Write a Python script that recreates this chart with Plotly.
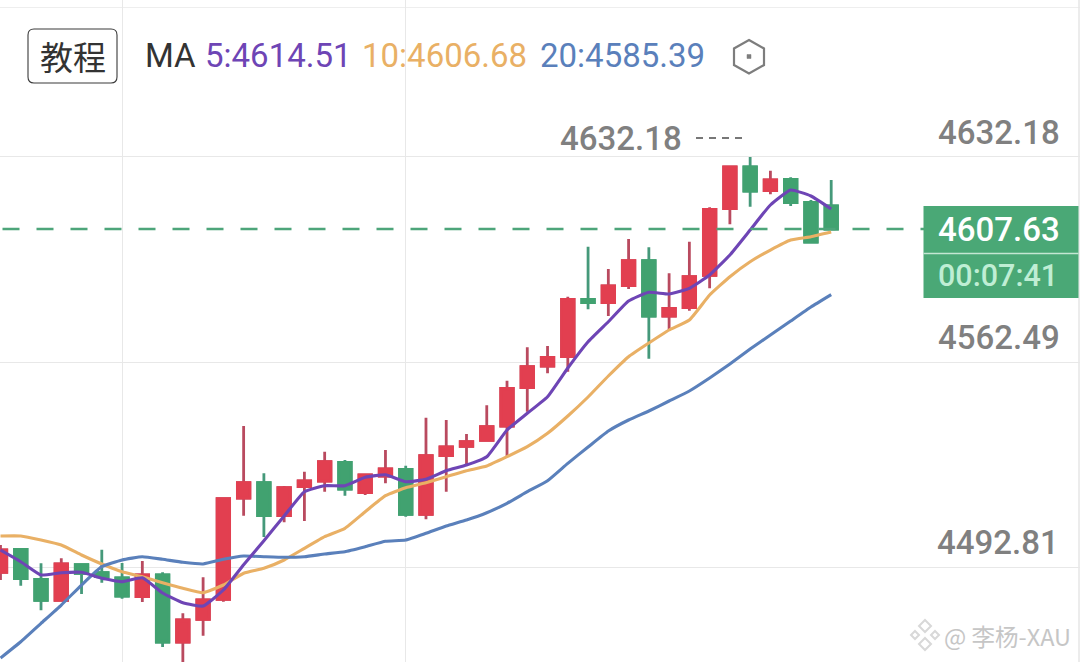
import plotly.graph_objects as go

W = 1080
H = 662

idx = list(range(42))

opens = [4491.01, 4498.83, 4488.64, 4481.50, 4493.60, 4490.88, 4489.08, 4482.72, 4490.10, 4467.32,
         4475.04, 4481.84, 4516.27, 4521.47, 4510.25, 4520.11, 4522.05, 4528.40, 4518.07, 4523.75,
         4526.03, 4510.73, 4530.65, 4533.84, 4535.88, 4540.74, 4553.76, 4561.14, 4564.30, 4583.81,
         4582.65, 4588.43, 4596.93, 4578.13, 4580.95, 4591.97, 4614.60, 4628.78, 4620.72, 4624.60,
         4616.78, 4615.52]
closes = [4498.59, 4488.84, 4481.50, 4493.84, 4490.68, 4489.52, 4482.96, 4490.10, 4467.32, 4474.80,
          4481.60, 4516.03, 4521.47, 4510.25, 4519.77, 4522.05, 4528.61, 4519.33, 4524.09, 4526.13,
          4510.73, 4530.65, 4533.60, 4535.41, 4540.50, 4553.56, 4560.90, 4564.09, 4583.81, 4582.65,
          4588.33, 4596.93, 4578.13, 4580.75, 4591.49, 4614.40, 4628.78, 4620.62, 4624.36, 4616.64,
          4603.28, 4607.63]
highs = [4500.29, 4499.17, 4494.07, 4495.77, 4493.60, 4498.70, 4494.18, 4494.86, 4491.01, 4477.08,
         4489.32, 4516.27, 4540.74, 4524.67, 4520.35, 4525.21, 4532.01, 4529.19, 4524.33, 4532.58,
         4527.25, 4543.56, 4542.78, 4538.02, 4547.78, 4556.14, 4567.49, 4567.93, 4584.69, 4601.69,
         4594.11, 4604.30, 4601.48, 4592.65, 4603.39, 4615.08, 4629.12, 4632.18, 4627.52, 4625.28,
         4617.56, 4624.36]
lows = [4488.40, 4486.46, 4478.10, 4481.50, 4483.64, 4487.48, 4482.04, 4480.92, 4465.62, 4460.53,
        4469.47, 4481.02, 4510.25, 4503.01, 4508.01, 4508.45, 4518.41, 4517.05, 4517.29, 4521.27,
        4509.91, 4509.03, 4518.41, 4527.49, 4535.54, 4530.10, 4545.60, 4558.66, 4559.20, 4580.41,
        4578.13, 4587.31, 4563.62, 4573.37, 4579.93, 4587.55, 4609.30, 4615.28, 4619.50, 4615.52,
        4603.05, 4607.63]

ma5 = [4498.59, 4494.62, 4490.10, 4490.88, 4491.01, 4488.98, 4487.82, 4489.18, 4483.98, 4480.68,
       4479.56, 4485.00, 4493.60, 4501.76, 4510.15, 4518.41, 4520.45, 4520.45, 4523.31, 4524.19,
       4521.81, 4522.63, 4525.55, 4527.49, 4530.31, 4539.38, 4545.06, 4550.70, 4560.46, 4569.40,
       4576.19, 4583.23, 4586.19, 4585.61, 4587.55, 4592.07, 4598.87, 4607.36, 4615.86, 4620.96,
       4618.92, 4614.51]
ma10 = [4503.35, 4503.35, 4501.99, 4500.29, 4496.90, 4493.84, 4491.22, 4489.52, 4487.48, 4485.58,
        4484.08, 4486.70, 4490.68, 4492.37, 4495.20, 4499.17, 4503.12, 4505.97, 4511.61, 4517.05,
        4519.77, 4521.47, 4523.51, 4525.55, 4527.15, 4530.31, 4533.71, 4538.26, 4544.14, 4550.60,
        4557.74, 4564.30, 4568.95, 4573.37, 4576.77, 4585.27, 4591.49, 4596.59, 4600.56, 4603.96,
        4605.09, 4606.68]
ma20 = [4461.89, 4467.43, 4473.68, 4479.90, 4486.70, 4492.92, 4495.20, 4496.32, 4495.43, 4494.41,
        4493.84, 4495.43, 4496.56, 4496.32, 4496.11, 4496.32, 4497.24, 4498.02, 4499.72, 4501.55,
        4501.99, 4504.27, 4506.75, 4508.79, 4511.27, 4514.47, 4518.41, 4522.15, 4528.06, 4533.60,
        4539.04, 4542.78, 4545.84, 4549.24, 4552.64, 4557.06, 4561.82, 4566.91, 4571.67, 4576.43,
        4581.19, 4585.39]

grid_prices = [4632.18, 4562.49, 4492.81]
grid_candles = [0, 6, 20]

RED = "#e23f50"
RED_WICK = "#b94a5f"
GREEN = "#41a270"
GREEN_WICK = "#45997a"
PURPLE = "#6e45b5"
ORANGE = "#e9b065"
BLUE = "#5a80bb"
GREY = "#808080"
NUM_FONT = "Roboto"


def px(x):
    return x / W


def py(y):
    return 1 - y / H


fig = go.Figure()

# wicks first, then a second pass so the bodies keep their brighter colour
fig.add_trace(go.Candlestick(x=idx, open=opens, high=highs, low=lows, close=closes,
                             increasing=dict(line=dict(color=RED_WICK, width=2.8), fillcolor=RED),
                             decreasing=dict(line=dict(color=GREEN_WICK, width=2.8), fillcolor=GREEN),
                             hoverinfo="skip"))
fig.add_trace(go.Candlestick(x=idx, open=opens, close=closes,
                             high=[max(a, b) for a, b in zip(opens, closes)],
                             low=[min(a, b) for a, b in zip(opens, closes)],
                             increasing=dict(line=dict(color=RED, width=2.8), fillcolor=RED),
                             decreasing=dict(line=dict(color=GREEN, width=2.8), fillcolor=GREEN),
                             hoverinfo="skip"))

for vals, col in [(ma10, ORANGE), (ma20, BLUE), (ma5, PURPLE)]:
    fig.add_trace(go.Scatter(x=idx, y=vals, mode="lines",
                             line=dict(color=col, width=3.1, shape="spline", smoothing=0.4),
                             hoverinfo="skip"))


def label(text, x, y, size, color, anchor="right", font=NUM_FONT, weight=400):
    fig.add_annotation(text=text, x=px(x), y=py(y), xref="paper", yref="paper",
                       xanchor=anchor, yanchor="middle", showarrow=False,
                       font=dict(family=font, size=size, color=color, weight=weight))


def line(x0, y0, x1, y1, color, width, dash="solid", layer="above"):
    fig.add_shape(type="line", xref="paper", yref="paper", x0=px(x0), y0=py(y0), x1=px(x1), y1=py(y1),
                  line=dict(color=color, width=width, dash=dash), layer=layer)


def path(points, color, width, fill="rgba(0,0,0,0)", closed=True):
    d = "M " + " L ".join(f"{px(a):.5f},{py(b):.5f}" for a, b in points)
    if closed:
        d += " Z"
    fig.add_shape(type="path", xref="paper", yref="paper", path=d, fillcolor=fill,
                  line=dict(color=color, width=width))


# frame
line(0, 7.5, 1080, 7.5, "#eeeeee", 1.2, layer="below")
line(1079, 0, 1079, 662, "#e6e6e6", 1.5, layer="below")

# last price
line(2.5, 229, 924, 229, "#4da57a", 2.6, dash="17px,17px")
fig.add_shape(type="rect", xref="paper", yref="paper", x0=px(923.5), x1=px(1078.5), y0=py(206), y1=py(298),
              fillcolor="#4aa876", line=dict(width=0))
line(923.5, 253.5, 1078.5, 253.5, "#c4e6d3", 1.4)

# high marker
line(696, 138, 744, 138, "#777777", 2.2, dash="7px,6px")

# top left button, rounded corners
x0, x1, y0, y1, r = px(28), px(117), py(29), py(83), 6
rx, ry = r / W, r / H
fig.add_shape(type="path", xref="paper", yref="paper", fillcolor="#ffffff", line=dict(color="#3a3a3a", width=1.1),
              path=f"M {x0 + rx},{y0} L {x1 - rx},{y0} Q {x1},{y0} {x1},{y0 - ry} L {x1},{y1 + ry} "
                   f"Q {x1},{y1} {x1 - rx},{y1} L {x0 + rx},{y1} Q {x0},{y1} {x0},{y1 + ry} "
                   f"L {x0},{y0 - ry} Q {x0},{y0} {x0 + rx},{y0} Z")
label("教程", 72.5, 56, 33, "#333333", anchor="center", font="Noto Sans CJK SC")

label("MA", 142.5, 55, 33, "#333333", anchor="left")
label("5:4614.51", 202.5, 55, 33, PURPLE, anchor="left")
label("10:4606.68", 360, 55, 33, ORANGE, anchor="left")
label("20:4585.39", 537.5, 55, 33, BLUE, anchor="left")

# hexagon icon
path([(749, 40), (764, 48.5), (764, 65), (749, 73.5), (734, 65), (734, 48.5)], "#7d7d7d", 2.2)
path([(747, 54.5), (751, 54.5), (751, 58.5), (747, 58.5)], "#7d7d7d", 0.5, fill="#7d7d7d")

# price labels
label("4632.18", 1062, 132, 33, GREY, weight=500)
label("4632.18", 684, 138, 33, GREY, weight=500)
label("4607.63", 1062, 229, 33, "#ffffff", weight=500)
label("00:07:41", 1060, 275, 30.5, "#bfeed4", weight=500)
label("4562.49", 1062, 337, 33, GREY, weight=500)
label("4492.81", 1061, 542, 33, GREY, weight=500)

# watermark
for cx, cy, rad in [(925, 626, 6), (915, 635, 4), (935, 635, 4), (925, 644, 6)]:
    path([(cx, cy - rad), (cx + rad, cy), (cx, cy + rad), (cx - rad, cy)], "#d8d8d8", 2)
label("@ 李杨-XAU", 1073, 636, 23.5, "#c6c6c6", font="Noto Sans CJK SC")

fig.update_layout(
    width=W, height=H,
    margin=dict(l=0, r=0, t=0, b=0),
    paper_bgcolor="white", plot_bgcolor="white",
    showlegend=False, hovermode=False,
    boxgap=0.12,
    xaxis=dict(type="linear", range=[-0.0247, 53.28], tickvals=grid_candles, showticklabels=False,
               gridcolor="#e8e8e8", gridwidth=1.2, zeroline=False, showline=False,
               rangeslider=dict(visible=False), ticks=""),
    yaxis=dict(range=[4460.53, 4685.54], tickvals=grid_prices, showticklabels=False,
               gridcolor="#e8e8e8", gridwidth=1.2, zeroline=False, showline=False, ticks=""),
)

# page body has an 8px margin by default
fig.write_html("out.html", config={"displayModeBar": False}, post_script="document.body.style.margin='0'")
